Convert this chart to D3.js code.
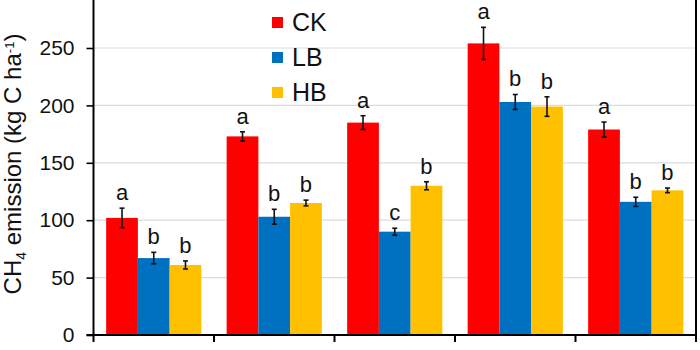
<!DOCTYPE html>
<html>
  <head>
    <meta charset="utf-8">
    <title>CH4 emission</title>
    <script src="https://cdn.jsdelivr.net/npm/d3@7"></script>
    <style>
      body { margin: 0; background: #fff; }
      svg { display: block; font-family: "Liberation Sans", Arial, sans-serif; }
    </style>
  </head>
  <body>
    <svg id="chart" width="700" height="350"></svg>
    <script>
      // data
      groups = ["G1", "G2", "G3", "G4", "G5"];
      treatments = ["CK", "LB", "HB"];
      colours = ["#ff0000", "#0070c0", "#ffc000"];
      ckMean = [102, 173, 185, 254, 179];
      lbMean = [67, 103, 90, 203, 116];
      hbMean = [61, 115, 130, 199, 126];
      ckErr = [8.5, 4, 6, 14, 6.5];
      lbErr = [5, 6.5, 3, 6.5, 4];
      hbErr = [3.5, 2.5, 3.5, 8.5, 2];
      ckLetter = ["a", "a", "a", "a", "a"];
      lbLetter = ["b", "b", "c", "b", "b"];
      hbLetter = ["b", "b", "b", "b", "b"];
      yTicks = [0, 50, 100, 150, 200, 250];

      means = [ckMean, lbMean, hbMean];
      errs = [ckErr, lbErr, hbErr];
      letters = [ckLetter, lbLetter, hbLetter];

      rows = [];
      groups.forEach(function(g, i) {
        treatments.forEach(function(t, j) {
          rows.push({ group: g, treatment: t, mean: means[j][i], err: errs[j][i], letter: letters[j][i] });
        });
      });

      // elements
      svg = d3.select("#chart");
      left = 93.5;
      right = 696;
      bottom = 335;

      x = d3.scaleBand()
        .domain(groups)
        .range([left, right])
        .paddingInner(0.21)
        .paddingOuter(0.105);
      // category boundaries for the x ticks
      xEdge = d3.scaleLinear()
        .domain([0, groups.length])
        .range([left, right]);
      xInner = d3.scaleBand()
        .domain(treatments)
        .range([0, x.bandwidth()]);
      colour = d3.scaleOrdinal()
        .domain(treatments)
        .range(colours);
      y = d3.scaleLinear()
        .domain([0, 250])
        .range([bottom, 48]);

      // gridlines
      svg.append("g")
        .selectAll("line")
        .data(yTicks.slice(1))
      .enter().append("line")
        .attr("x1", left)
        .attr("x2", right)
        .attr("y1", function(d) { return y(d); })
        .attr("y2", function(d) { return y(d); })
        .attr("stroke", "#dcdcdc")
        .attr("stroke-width", 1.2);

      // bars
      bars = svg.append("g")
        .selectAll("g")
        .data(rows)
      .enter().append("g")
        .attr("transform", function(d) { return "translate(" + (x(d.group) + xInner(d.treatment)) + ",0)"; });

      bars.append("rect")
        .attr("x", 0)
        .attr("width", xInner.bandwidth())
        .attr("y", function(d) { return y(d.mean); })
        .attr("height", function(d) { return bottom - y(d.mean); })
        .attr("fill", function(d) { return colour(d.treatment); });

      // error bars
      cx = xInner.bandwidth() / 2;
      bars.append("line")
        .attr("x1", cx).attr("x2", cx)
        .attr("y1", function(d) { return y(d.mean + d.err); })
        .attr("y2", function(d) { return y(d.mean - d.err); })
        .attr("stroke", "#111")
        .attr("stroke-width", 1.6);
      [1, -1].forEach(function(s) {
        bars.append("line")
          .attr("x1", cx - 2.5).attr("x2", cx + 2.5)
          .attr("y1", function(d) { return y(d.mean + s * d.err); })
          .attr("y2", function(d) { return y(d.mean + s * d.err); })
          .attr("stroke", "#111")
          .attr("stroke-width", 1.6);
      });

      // significance letters
      bars.append("text")
        .attr("x", cx)
        .attr("y", function(d) { return y(d.mean + d.err) - 8; })
        .attr("text-anchor", "middle")
        .attr("font-size", 22)
        .attr("fill", "#111")
        .text(function(d) { return d.letter; });

      // y axis
      yAxis = d3.axisLeft(y)
        .tickValues(yTicks)
        .tickSize(7)
        .tickPadding(12)
        .tickSizeOuter(0);
      yg = svg.append("g")
        .attr("transform", "translate(" + left + ",0)")
        .call(yAxis);
      yg.select(".domain").remove();
      yg.selectAll("line").attr("stroke", "#000").attr("stroke-width", 1.6);
      yg.selectAll("text")
        .attr("font-size", 21)
        .attr("font-family", "Liberation Sans, Arial, sans-serif")
        .attr("fill", "#111");

      // axis frame
      svg.append("line")
        .attr("x1", left).attr("x2", left)
        .attr("y1", 0).attr("y2", bottom)
        .attr("stroke", "#000").attr("stroke-width", 2);
      svg.append("line")
        .attr("x1", right).attr("x2", right)
        .attr("y1", 0).attr("y2", bottom)
        .attr("stroke", "#000").attr("stroke-width", 2);
      svg.append("line")
        .attr("x1", left - 7).attr("x2", right)
        .attr("y1", bottom).attr("y2", bottom)
        .attr("stroke", "#000").attr("stroke-width", 2);

      // x ticks at category edges
      svg.append("g")
        .selectAll("line")
        .data(d3.range(groups.length + 1))
      .enter().append("line")
        .attr("x1", function(d) { return xEdge(d); })
        .attr("x2", function(d) { return xEdge(d); })
        .attr("y1", bottom)
        .attr("y2", bottom + 7)
        .attr("stroke", "#000")
        .attr("stroke-width", 2);

      // y title
      title = svg.append("text")
        .attr("transform", "translate(21,164) rotate(-90)")
        .attr("text-anchor", "middle")
        .attr("font-size", 24)
        .attr("fill", "#111");
      title.append("tspan").text("CH");
      title.append("tspan").attr("font-size", 14).attr("dy", 5).text("4");
      title.append("tspan").attr("dy", -5).text(" emission (kg C ha");
      title.append("tspan").attr("font-size", 13).attr("dy", -7).text("-1");
      title.append("tspan").attr("dy", 7).text(")");

      // legend
      legend = svg.append("g")
        .selectAll("g")
        .data(treatments)
      .enter().append("g")
        .attr("transform", function(d, i) { return "translate(272," + (17 + i * 35) + ")"; });
      legend.append("rect")
        .attr("width", 11)
        .attr("height", 11)
        .attr("fill", function(d) { return colour(d); });
      legend.append("text")
        .attr("x", 20)
        .attr("y", 14)
        .attr("font-size", 25)
        .attr("fill", "#111")
        .text(function(d) { return d; });
    </script>
  </body>
</html>
